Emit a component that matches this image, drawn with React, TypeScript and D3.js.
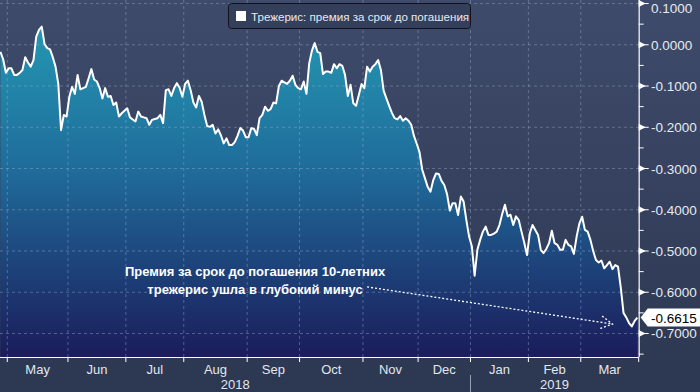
import React from "react";
import * as d3 from "d3";

// term premium, one value per trading day, 26 Apr 2018 .. 29 Mar 2019
const premium = [
  -0.017, -0.035, -0.068, -0.057, -0.057, -0.073, -0.073, -0.068, -0.061, -0.030,
  -0.043, -0.053, -0.037, 0.020, 0.036, 0.044, 0.002, -0.008, -0.011, -0.030,
  -0.053, -0.095, -0.207, -0.170, -0.174, -0.126, -0.102, -0.119, -0.073, -0.108,
  -0.105, -0.102, -0.081, -0.059, -0.084, -0.089, -0.105, -0.130, -0.105, -0.126,
  -0.124, -0.146, -0.140, -0.174, -0.166, -0.160, -0.154, -0.176, -0.181, -0.186,
  -0.162, -0.174, -0.176, -0.178, -0.194, -0.182, -0.180, -0.178, -0.170, -0.190,
  -0.110, -0.108, -0.124, -0.105, -0.093, -0.104, -0.126, -0.095, -0.087, -0.110,
  -0.140, -0.152, -0.124, -0.138, -0.170, -0.197, -0.199, -0.194, -0.215, -0.205,
  -0.220, -0.239, -0.227, -0.243, -0.243, -0.236, -0.221, -0.202, -0.208, -0.224,
  -0.224, -0.202, -0.204, -0.219, -0.178, -0.170, -0.150, -0.160, -0.156, -0.140,
  -0.142, -0.100, -0.087, -0.091, -0.095, -0.087, -0.075, -0.097, -0.105, -0.108,
  -0.089, -0.119, -0.045, -0.014, 0.004, -0.017, -0.020, -0.071, -0.065, -0.065,
  -0.068, -0.047, -0.057, -0.047, -0.051, -0.073, -0.124, -0.097, -0.142, -0.148,
  -0.122, -0.095, -0.105, -0.053, -0.065, -0.053, -0.047, -0.037, -0.061, -0.111,
  -0.130, -0.148, -0.165, -0.178, -0.181, -0.173, -0.184, -0.178, -0.184, -0.194,
  -0.221, -0.240, -0.260, -0.303, -0.324, -0.345, -0.356, -0.328, -0.312, -0.313,
  -0.330, -0.340, -0.362, -0.402, -0.384, -0.384, -0.413, -0.368, -0.380, -0.425,
  -0.465, -0.489, -0.560, -0.497, -0.473, -0.453, -0.441, -0.461, -0.461, -0.458,
  -0.453, -0.437, -0.410, -0.388, -0.416, -0.412, -0.437, -0.416, -0.425, -0.453,
  -0.480, -0.510, -0.457, -0.437, -0.449, -0.461, -0.497, -0.505, -0.495, -0.481,
  -0.451, -0.481, -0.485, -0.497, -0.497, -0.473, -0.485, -0.489, -0.507, -0.465,
  -0.433, -0.417, -0.449, -0.453, -0.473, -0.500, -0.522, -0.528, -0.523, -0.542,
  -0.534, -0.526, -0.544, -0.534, -0.538, -0.588, -0.650, -0.661, -0.675, -0.683,
  -0.670, -0.6615,
];

const monthLabels = ["May", "Jun", "Jul", "Aug", "Sep", "Oct", "Nov", "Dec", "Jan", "Feb", "Mar"];
// index of the first trading day of each month in premium[]
const monthStarts = [3, 25, 46, 67, 90, 109, 132, 152, 171, 192, 211];
const yearLabels = ["2018", "2019"];
const yearStarts = [0, 171];

const yTicks = [0.1, 0, -0.1, -0.2, -0.3, -0.4, -0.5, -0.6, -0.7];
const yMinor = [0.05, -0.05, -0.15, -0.25, -0.35, -0.45, -0.55, -0.65, -0.75];

const legendText = "Трежерис: премия за срок до погашения";
const noteLines = ["Премия за срок до погашения 10-летних", "трежерис ушла в глубокий минус"];

const W = 700;
const H = 392;
const font = "'Liberation Sans', Arial, sans-serif";

export default function App() {
  const n = premium.length;
  const x = d3.scaleLinear().domain([0, n - 1]).range([0.4, 637.3]);
  const y = d3.scaleLinear().domain([-0.757, 0.1086]).range([357, 0]);
  const plotRight = x(n - 0.5);
  const bottom = y.range()[0];

  const area = d3
    .area<number>()
    .x((_, i) => x(i))
    .y0(bottom)
    .y1((d) => y(d));
  const line = d3
    .line<number>()
    .x((_, i) => x(i))
    .y((d) => y(d));

  // plain hyphen like the terminal, not the unicode minus
  const fmt = (v: number) => d3.format(".4f")(v).replace("\u2212", "-");
  const bounds = [...monthStarts, n].map((s) => x(s - 0.5));
  const yearBounds = [...yearStarts, n].map((s) => x(s - 0.5));
  const last = premium[n - 1];
  const yl = y(last);

  // annotation arrow, in data terms
  const arrowFrom = { i: 133, v: -0.587 };
  const arrowTo = { i: 222, v: -0.677 };
  const ax1 = x(arrowFrom.i), ay1 = y(arrowFrom.v);
  const ax2 = x(arrowTo.i), ay2 = y(arrowTo.v);
  const ang = Math.atan2(ay2 - ay1, ax2 - ax1);
  const head = (a: number) => [ax2 - 13 * Math.cos(ang + a), ay2 - 13 * Math.sin(ang + a)];
  const [hx1, hy1] = head(0.5);
  const [hx2, hy2] = head(-0.5);

  return (
    <svg width={W} height={H} style={{ position: "absolute", left: 0, top: 0 }} fontFamily={font}>
      <defs>
        <linearGradient id="bg" x1="0" y1="0" x2="0" y2="1">
          <stop offset="0" stopColor="#3f4b6b" />
          <stop offset="1" stopColor="#2c3751" />
        </linearGradient>
        <linearGradient id="fill" gradientUnits="userSpaceOnUse" x1="0" y1="20" x2="0" y2={bottom}>
          <stop offset="0" stopColor="#2499b3" />
          <stop offset="0.45" stopColor="#1f6b9a" />
          <stop offset="1" stopColor="#1b1c5b" />
        </linearGradient>
      </defs>
      <rect width={W} height={H} fill="url(#bg)" />

      <path d={area(premium) ?? ""} fill="url(#fill)" />

      {/* grid */}
      <g stroke="#9fb4d4" strokeOpacity={0.4} strokeDasharray="3,3">
        {yTicks.map((t) => (
          <line key={t} x1={0} x2={plotRight} y1={y(t)} y2={y(t)} />
        ))}
        {bounds.slice(0, -1).map((bx, i) => (
          <line key={i} x1={bx} x2={bx} y1={0} y2={bottom} />
        ))}
      </g>

      <path d={line(premium) ?? ""} fill="none" stroke="#ffffff" strokeWidth={2} strokeLinejoin="round" />

      {/* legend */}
      <rect x={228.5} y={3.5} width={242} height={25} rx={3} fill="#343f5c" stroke="#10131c" />
      <rect x={236} y={11} width={10} height={10} fill="#ffffff" />
      <text x={251} y={20.5} fontSize={11.6} fill="#e6e9ef">
        {legendText}
      </text>

      {/* annotation */}
      <g fill="#ffffff" fontSize={13} fontWeight="bold" textAnchor="middle">
        {noteLines.map((t, i) => (
          <text key={i} x={255} y={276 + i * 17.5}>
            {t}
          </text>
        ))}
      </g>
      <g stroke="#ffffff" strokeWidth={1.3} strokeDasharray="2,2" fill="none">
        <line x1={ax1} y1={ay1} x2={ax2} y2={ay2} />
        <polyline points={`${hx1},${hy1} ${ax2},${ay2} ${hx2},${hy2}`} />
      </g>

      {/* bottom axis */}
      <line x1={0} x2={plotRight} y1={bottom + 0.5} y2={bottom + 0.5} stroke="#ffffff" strokeWidth={1.2} />
      {bounds.map((bx, i) => (
        <line key={i} x1={bx} x2={bx} y1={bottom} y2={bottom + 5} stroke="#ffffff" />
      ))}
      <g fill="#e2e6ee" fontSize={13} textAnchor="middle">
        {monthLabels.map((m, i) => (
          <text key={m} x={(bounds[i] + bounds[i + 1]) / 2} y={374}>
            {m}
          </text>
        ))}
        {yearLabels.map((yr, i) => (
          <text key={yr} x={(Math.max(0, yearBounds[i]) + yearBounds[i + 1]) / 2} y={389}>
            {yr}
          </text>
        ))}
      </g>
      <line x1={yearBounds[1]} x2={yearBounds[1]} y1={375} y2={H} stroke="#9aa4b8" />

      {/* right axis */}
      <line x1={plotRight + 0.5} x2={plotRight + 0.5} y1={0} y2={bottom} stroke="#ffffff" strokeWidth={1.2} />
      {yMinor.map((t) => (
        <line key={t} x1={plotRight} x2={plotRight + 5} y1={y(t)} y2={y(t)} stroke="#ffffff" />
      ))}
      {yTicks.map((t) => (
        <g key={t}>
          <path
            d={`M${plotRight},${y(t) - 3.5}L${plotRight + 7},${y(t)}L${plotRight},${y(t) + 3.5}Z`}
            fill="#ffffff"
          />
          <line x1={plotRight} x2={plotRight + 10} y1={y(t)} y2={y(t)} stroke="#ffffff" />
          <text x={651} y={Math.max(y(t), 8) + 5} fontSize={13.5} fill="#e6e9ef">
            {fmt(t)}
          </text>
        </g>
      ))}

      {/* last value */}
      <path
        d={`M${plotRight + 2},${yl}L${plotRight + 9},${yl - 9}H${W}V${yl + 9}H${plotRight + 9}Z`}
        fill="#ffffff"
      />
      <text x={651} y={yl + 5} fontSize={13.5} fill="#000000">
        {fmt(last)}
      </text>
    </svg>
  );
}
